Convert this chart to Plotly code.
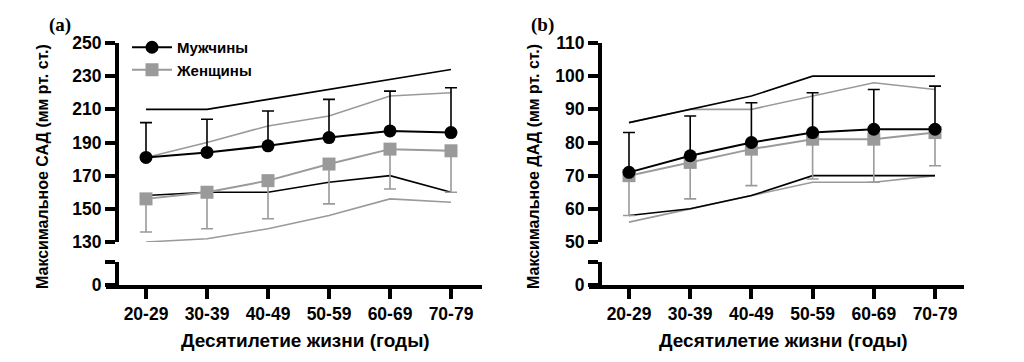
import plotly.graph_objects as go

# page body has an 8px margin: figure is drawn 8px right/down, so size it to fit
OFF = 8
W, H = 1024 - OFF, 362 - OFF

age_groups = ["20-29", "30-39", "40-49", "50-59", "60-69", "70-79"]

# Panel (a): maximum systolic BP
sbp_men_mean = [181, 184, 188, 193, 197, 196]
sbp_men_err_top = [202, 204, 209, 216, 221, 223]
sbp_men_upper = [210, 210, 216, 222, 228, 234]
sbp_men_lower = [158, 160, 160, 166, 170, 160]
sbp_women_mean = [156, 160, 167, 177, 186, 185]
sbp_women_err_bottom = [136, 138, 144, 153, 162, 160]
sbp_women_upper = [181, 190, 200, 206, 218, 220]
sbp_women_lower = [130, 132, 138, 146, 156, 154]
sbp_ticks = [130, 150, 170, 190, 210, 230, 250]

# Panel (b): maximum diastolic BP
dbp_men_mean = [71, 76, 80, 83, 84, 84]
dbp_men_err_top = [83, 88, 92, 95, 96, 97]
dbp_men_upper = [86, 90, 94, 100, 100, 100]
dbp_men_lower = [58, 60, 64, 70, 70, 70]
dbp_women_mean = [70, 74, 78, 81, 81, 83]
dbp_women_err_bottom = [58, 63, 67, 69, 68, 73]
dbp_women_upper = [86, 90, 90, 94, 98, 96]
dbp_women_lower = [56, 60, 64, 68, 68, 70]
dbp_ticks = [50, 60, 70, 80, 90, 100, 110]

BLACK = "#000000"
GRAY = "#9a9a9a"
FONT = "Liberation Sans, Arial, sans-serif"


def px(x):
    return (x - OFF) / W


def py(y):
    return 1 - (y - OFF) / H


fig = go.Figure()


def add_panel(xa, ya, ya_low, men_mean, men_top, men_up, men_lo, w_mean, w_bot, w_up, w_lo, legend):
    # invisible anchor trace so the lower (broken) axis segment is drawn
    fig.add_trace(go.Scatter(x=[age_groups[0]], y=[0], mode="markers", xaxis=xa, yaxis=ya_low,
                             marker=dict(opacity=0, size=1), showlegend=False, hoverinfo="skip"))
    # envelope lines
    for vals, col in [(w_up, GRAY), (w_lo, GRAY), (men_up, BLACK), (men_lo, BLACK)]:
        fig.add_trace(go.Scatter(x=age_groups, y=vals, mode="lines", xaxis=xa, yaxis=ya,
                                 line=dict(color=col, width=1.6), showlegend=False,
                                 cliponaxis=False, hoverinfo="skip"))
    # women
    fig.add_trace(go.Scatter(
        x=age_groups, y=w_mean, mode="lines+markers", xaxis=xa, yaxis=ya,
        name="Женщины", showlegend=legend, legendrank=2,
        line=dict(color=GRAY, width=2),
        marker=dict(symbol="square", size=13, color=GRAY),
        error_y=dict(type="data", symmetric=False,
                     array=[0] * len(w_mean),
                     arrayminus=[m - b for m, b in zip(w_mean, w_bot)],
                     color=GRAY, thickness=1.6, width=6),
        cliponaxis=False))
    # men
    fig.add_trace(go.Scatter(
        x=age_groups, y=men_mean, mode="lines+markers", xaxis=xa, yaxis=ya,
        name="Мужчины", showlegend=legend, legendrank=1,
        line=dict(color=BLACK, width=2),
        marker=dict(symbol="circle", size=13, color=BLACK),
        error_y=dict(type="data", symmetric=False,
                     array=[t - m for t, m in zip(men_top, men_mean)],
                     arrayminus=[0] * len(men_mean),
                     color=BLACK, thickness=1.6, width=6),
        cliponaxis=False))


add_panel("x", "y", "y2", sbp_men_mean, sbp_men_err_top, sbp_men_upper, sbp_men_lower,
          sbp_women_mean, sbp_women_err_bottom, sbp_women_upper, sbp_women_lower, True)
add_panel("x2", "y3", "y4", dbp_men_mean, dbp_men_err_top, dbp_men_upper, dbp_men_lower,
          dbp_women_mean, dbp_women_err_bottom, dbp_women_upper, dbp_women_lower, False)

tickfont = dict(family=FONT, size=17.5, color=BLACK, weight="bold")
axis_common = dict(showgrid=False, zeroline=False, showline=True, linecolor=BLACK,
                   linewidth=4, ticks="outside", ticklen=10, tickwidth=3.5,
                   tickcolor=BLACK, tickfont=tickfont, fixedrange=True, automargin=False)

y_up_dom = [py(242), py(43)]
y_lo_dom = [py(285), py(262)]


def x_axis(d0, d1, c0, c1, anchor):
    step = (c1 - c0) / 5
    return dict(domain=[px(d0), px(d1)], anchor=anchor, type="category",
                categoryorder="array", categoryarray=age_groups,
                range=[-(c0 - d0) / step, 5 + (d1 - c1) / step], **axis_common)


fig.update_layout(
    template="none",
    width=W, height=H, margin=dict(l=0, r=0, t=0, b=0, pad=0), autosize=False,
    paper_bgcolor="white", plot_bgcolor="rgba(0,0,0,0)",
    xaxis=x_axis(106, 482, 146, 451, "y2"),
    yaxis=dict(domain=y_up_dom, anchor="free", position=px(117), range=[130, 250],
               tickvals=sbp_ticks, **axis_common),
    yaxis2=dict(domain=y_lo_dom, anchor="free", position=px(117), range=[0, 1],
                tickvals=[0, 1], ticktext=["0", ""], **axis_common),
    xaxis2=x_axis(589, 964, 629, 935, "y4"),
    yaxis3=dict(domain=y_up_dom, anchor="free", position=px(600), range=[50, 110],
                tickvals=dbp_ticks, **axis_common),
    yaxis4=dict(domain=y_lo_dom, anchor="free", position=px(600), range=[0, 1],
                tickvals=[0, 1], ticktext=["0", ""], **axis_common),
    showlegend=True,
    legend=dict(x=px(127), y=py(31), xanchor="left", yanchor="top", itemwidth=40,
                font=dict(family=FONT, size=15, color=BLACK, weight="bold"),
                bgcolor="rgba(0,0,0,0)", traceorder="normal"),
)

ann_font = dict(family=FONT, color=BLACK, weight="bold")
annotations = [
    dict(text="(a)", x=px(60), y=py(25), font=dict(family="Liberation Serif, Times New Roman, serif",
                                                    size=19, color=BLACK, weight="bold")),
    dict(text="(b)", x=px(542), y=py(25), font=dict(family="Liberation Serif, Times New Roman, serif",
                                                     size=19, color=BLACK, weight="bold")),
    dict(text="Максимальное САД (мм рт. ст.)", x=px(42), y=py(167), textangle=-90,
         font=dict(size=16, **ann_font)),
    dict(text="Максимальное ДАД (мм рт. ст.)", x=px(533), y=py(167), textangle=-90,
         font=dict(size=16, **ann_font)),
    dict(text="Десятилетие жизни (годы)", x=px(305), y=py(340), font=dict(size=19, **ann_font)),
    dict(text="Десятилетие жизни (годы)", x=px(783), y=py(340), font=dict(size=19, **ann_font)),
]
for a in annotations:
    a.update(xref="paper", yref="paper", showarrow=False, xanchor="center", yanchor="middle")
fig.update_layout(annotations=annotations)

fig.write_html("out.html")
